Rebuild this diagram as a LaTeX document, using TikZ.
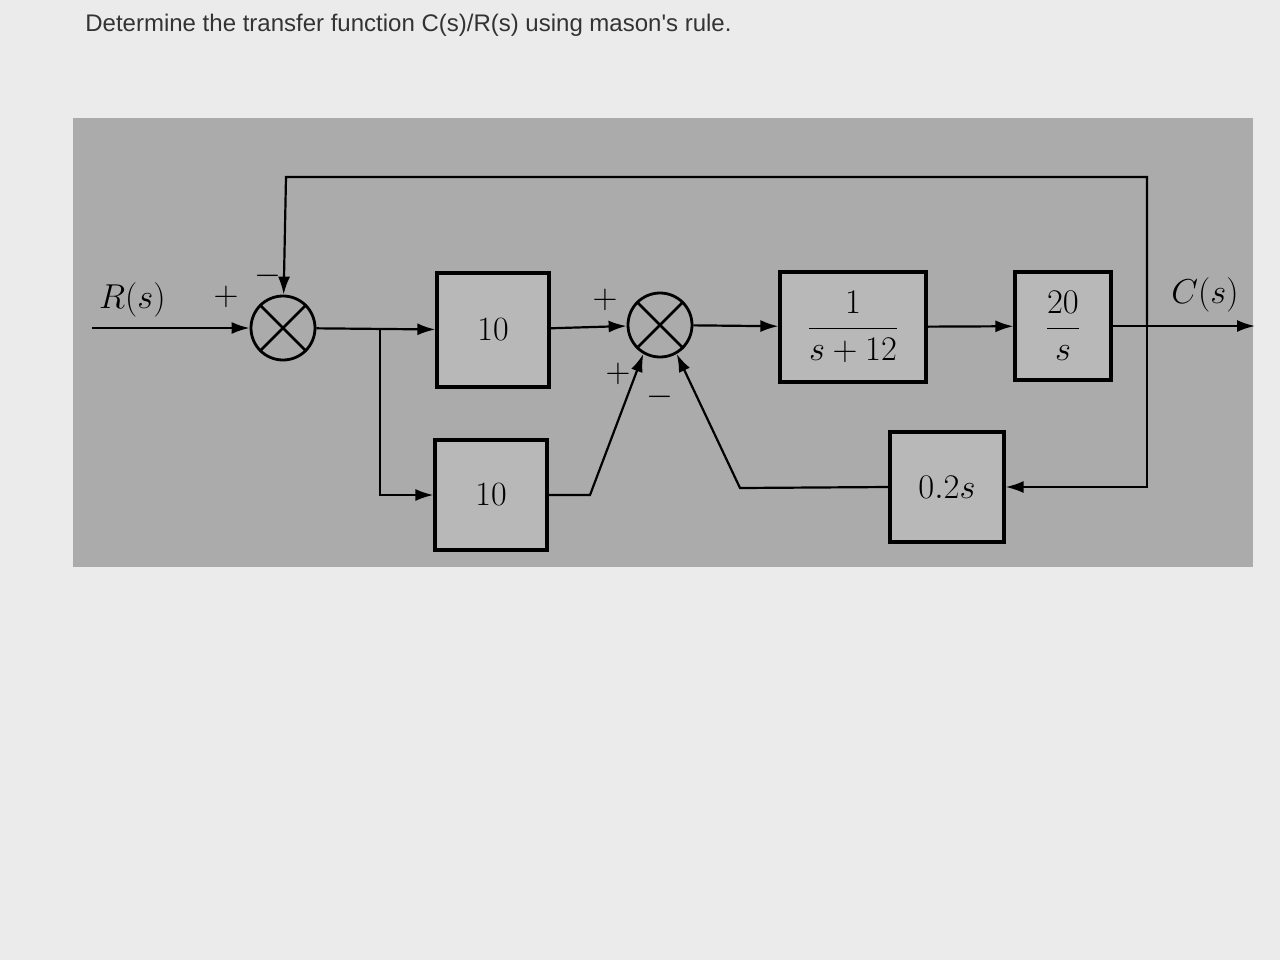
\documentclass[tikz,border=0pt]{standalone}
\usepackage{fontspec}
\newfontfamily\titlefont{Liberation Sans}
\usetikzlibrary{arrows.meta}
\begin{document}
\begin{tikzpicture}[x=0.5pt,y=-0.5pt,
  blk/.style={draw,line width=1.6pt,fill=black!28,inner sep=0pt},
  sumj/.style={draw,line width=1.4pt,circle,minimum size=32pt,inner sep=0pt},
  ln/.style={line width=1.1pt},
  ar/.style={ln,-{Latex[length=9pt,width=6pt]}},
  lbl/.style={font=\fontsize{17}{19}\selectfont}]
\useasboundingbox (0,0) rectangle (1280,960);
\fill[black!8] (0,0) rectangle (1280,960);
\fill[black!33] (73,118) rectangle (1253,567);
\node[anchor=west,inner sep=0pt,font=\titlefont\fontsize{12}{14}\selectfont,text=black!80] (title) at (85,25) {Determine the transfer function C(s)/R(s) using mason's rule.};
\node[sumj] (s1) at (283,328) {};
\draw[line width=1.4pt] (s1.north west)--(s1.south east) (s1.north east)--(s1.south west);
\node[sumj] (s2) at (660,325) {};
\draw[line width=1.4pt] (s2.north west)--(s2.south east) (s2.north east)--(s2.south west);
\node[blk,minimum width=56pt,minimum height=57pt,lbl] (b1) at (493,330) {10};
\node[blk,minimum width=56pt,minimum height=55pt,lbl] (b2) at (491,495) {10};
\node[blk,minimum width=73pt,minimum height=55pt,lbl] (b3) at (853,327) {$\displaystyle\frac{1}{s+12}$};
\node[blk,minimum width=48pt,minimum height=54pt,lbl] (b4) at (1063,326) {$\displaystyle\frac{20}{s}$};
\node[blk,minimum width=57pt,minimum height=55pt,lbl] (b5) at (947,487) {$0.2s$};
\node[lbl,anchor=west] (R) at (92,300) {$R(s)$};
\node[lbl] (C) at (1205,295) {$C(s)$};
\coordinate (rin) at (92,328);
\coordinate (out) at (1255,326);
\coordinate (j1) at (380,328);
\coordinate (j2) at (1147,326);
\draw[ar] (rin) -- (s1);
\draw[ar] (s1) -- (b1);
\draw[ar] (j1) |- (b2);
\draw[ar] (b1) -- (s2);
\draw[ar] (s2) -- (b3);
\draw[ar] (b3) -- (b4);
\draw[ar] (b4) -- (out);
\draw[ar] (j2) |- (286,177) -- (s1);
\draw[ar] (j2) |- (b5);
\draw[ar] (b2.east) -- (590,495) -- (s2.240);
\draw[ar] (b5.west) -- (740,488) -- (s2.300);
\node[lbl] (p1) at (226,297) {$+$};
\node[lbl] (m1) at (268,276) {$-$};
\node[lbl] (p2) at (605,300) {$+$};
\node[lbl] (p3) at (618,374) {$+$};
\node[lbl] (m2) at (660,397) {$-$};
\end{tikzpicture}
\end{document}
